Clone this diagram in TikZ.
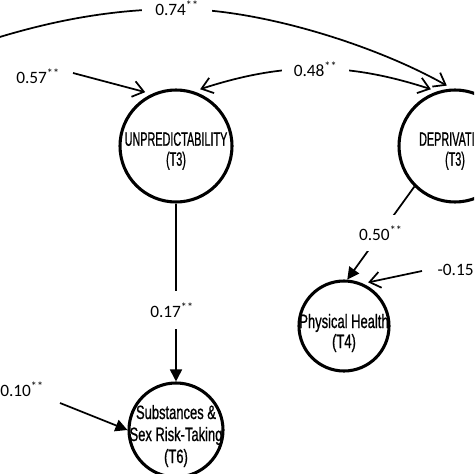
\documentclass[tikz,border=0pt]{standalone}
\usepackage{fontspec}
\setmainfont{Carlito}
\newfontfamily\condA[FakeStretch=0.56,FakeBold=0.8]{Liberation Sans}
\newfontfamily\condB[FakeStretch=0.67,FakeBold=0.8]{Liberation Sans}
\usetikzlibrary{arrows.meta}
\begin{document}
\begin{tikzpicture}[x=0.75pt,y=-0.75pt,
  latent/.style={circle, draw, line width=2.3pt, inner sep=0pt},
  conn/.style={line width=1.3pt},
  openhead/.style={-{Straight Barb[length=8pt,width=12pt]}},
  fillhead/.style={-{Triangle[length=9pt,width=9pt]}},
  coef/.style={font=\fontsize{13}{14}\selectfont, inner sep=1pt},
  gapped/.style={coef, fill=white},
  ntA/.style={align=center, font=\condA\fontsize{14.5}{15}\selectfont},
  ntB/.style={align=center, font=\condB\fontsize{14.5}{15}\selectfont}]
\useasboundingbox (0,0) rectangle (474,474);
\clip (0,0) rectangle (474,474);

% latent variables
\node[latent, minimum size=84pt] (u) at (176,146) {};
\node[latent, minimum size=84pt] (d) at (455,146) {};
\node[latent, minimum size=67.5pt] (p) at (344,326) {};
\node[latent, minimum size=70.5pt] (s) at (176,430) {};

\node[ntA] (ut) at (176,151) {UNPREDICTABILITY\\(T3)};
\node[ntA] (dt) at (455,151) {DEPRIVATION\\(T3)};
\node[ntB] (pt) at (344,333) {Physical Health\\(T4)};
\node[ntB, font=\condB\fontsize{14.5}{16.5}\selectfont] (st) at (176,436) {Substances \&\\Sex Risk-Taking\\(T6)};

% free ends
\coordinate (a74) at (-10,40);
\coordinate (m74) at (178,9);
\coordinate (a57) at (73,73);
\coordinate (a15) at (422,271);
\coordinate (a10) at (60,403);

% 0.74 curve
\draw[conn, openhead, shorten >=4.5pt] (a74) .. controls (60,18) and (120,9) .. (m74)
   .. controls (260,9) and (375,45) .. (d.93);
\node[gapped, inner xsep=10pt] (l74) at (177,8) {0.74\textsuperscript{**}};

% 0.57
\draw[conn, openhead, shorten >=5pt] (a57) -- (u.115);
\node[coef] (l57) at (38,76) {0.57\textsuperscript{**}};

% 0.48 double-headed
\draw[conn, {Straight Barb[length=8pt,width=12pt]}-{Straight Barb[length=8pt,width=12pt]},
   shorten <=5pt, shorten >=5pt] (u.72) to[bend left=18]
   node[gapped, inner xsep=9pt] (l48) {0.48\textsuperscript{**}} (d.108);

% 0.17
\draw[conn, fillhead] (u.south) -- (s.north);
\node[gapped, inner ysep=9pt] (l17) at (172,310) {0.17\textsuperscript{**}};

% 0.50
\draw[conn, fillhead] (d.225) -- node[gapped, inner ysep=8pt, inner xsep=3pt] (l50) {0.50\textsuperscript{**}} (p.86);

% -0.15
\draw[conn, openhead, shorten >=4pt] (a15) -- (p.66);
\node[coef, anchor=west] (l15) at (436,270) {-0.15};

% 0.10
\draw[conn, fillhead] (a10) -- (s.west);
\node[coef] (l10) at (22,389) {0.10\textsuperscript{**}};
\end{tikzpicture}
\end{document}
